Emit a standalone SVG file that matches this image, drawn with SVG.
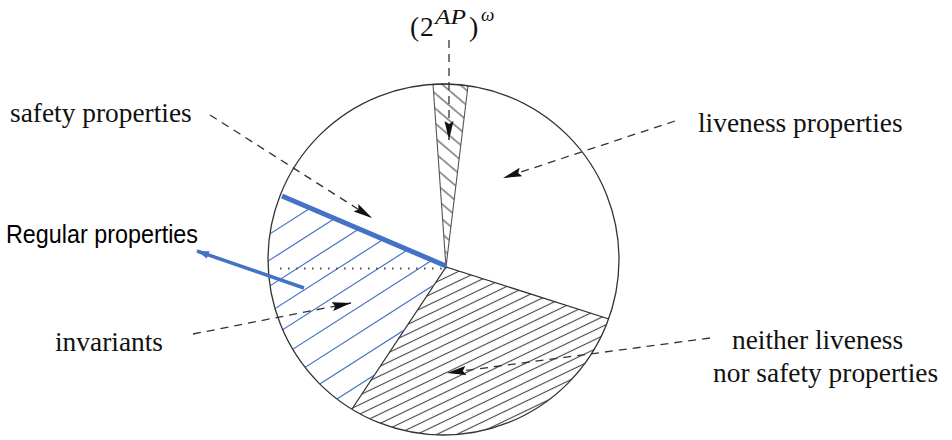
<svg xmlns="http://www.w3.org/2000/svg" width="952" height="440" viewBox="0 0 952 440">
<style>
.lbl{font-family:"Liberation Serif","Times New Roman",serif;font-size:27.4px;fill:#111}
.sans{font-family:"Liberation Sans",Arial,sans-serif;fill:#000}
.edge{fill:none;stroke:#333;stroke-width:1.3}
.dash{fill:none;stroke:#333;stroke-width:1.3;stroke-dasharray:8 6}
.bh{stroke:#4472C4;stroke-width:1.2}
</style>
<defs>
<marker id="ah" markerUnits="userSpaceOnUse" markerWidth="20" markerHeight="10" refX="19" refY="4.5" orient="auto">
<path d="M0,0 L19,4.5 L0,9 L3,4.5 z" fill="#111"/>
</marker>
<marker id="bah" markerUnits="userSpaceOnUse" markerWidth="14" markerHeight="10" refX="12" refY="4" orient="auto">
<path d="M0,0 L12,4 L0,8 z" fill="#4472C4"/>
</marker>
<pattern id="gh" patternUnits="userSpaceOnUse" width="20" height="8.6" patternTransform="rotate(-25.6)">
<line x1="-1" y1="4.3" x2="21" y2="4.3" stroke="#444" stroke-width="1.1"/>
</pattern>
<pattern id="wh" patternUnits="userSpaceOnUse" width="20" height="11.4" patternTransform="rotate(40.4)">
<line x1="-1" y1="5.7" x2="21" y2="5.7" stroke="#444" stroke-width="1.1"/>
</pattern>
<clipPath id="blueclip">
<path d="M446,267 L280,195.7 A175.5,175.5 0 0 0 352,409 Z"/>
</clipPath>
</defs>
<rect width="952" height="440" fill="#fff"/>

<g id="neither-region">
<path d="M446,267 L352,409 A175.5,175.5 0 0 0 609,319 Z" fill="url(#gh)"/>
<path d="M352,409 L446,267 L609,319" class="edge"/>
</g>

<g id="intersection-wedge">
<path d="M446,267 L433,84.3 A175.5,175.5 0 0 1 468,85.7 Z" fill="url(#wh)" stroke="#555" stroke-width="1.1"/>
</g>

<g id="regular-region">
<g clip-path="url(#blueclip)">
<line class="bh" x1="262" y1="239" x2="450" y2="118.7"/>
<line class="bh" x1="262" y1="265" x2="450" y2="144.7"/>
<line class="bh" x1="262" y1="291" x2="450" y2="170.7"/>
<line class="bh" x1="262" y1="317" x2="450" y2="196.7"/>
<line class="bh" x1="262" y1="343" x2="450" y2="222.7"/>
<line class="bh" x1="262" y1="369" x2="450" y2="248.7"/>
<line class="bh" x1="262" y1="395" x2="450" y2="274.7"/>
<line class="bh" x1="262" y1="421" x2="450" y2="300.7"/>
<line class="bh" x1="262" y1="447" x2="450" y2="326.7"/>
</g>
<line x1="282" y1="196" x2="446" y2="266" stroke="#4472C4" stroke-width="5"/>
<line x1="280" y1="268.5" x2="443" y2="268.5" stroke="#555" stroke-width="1.8" stroke-dasharray="1.6 6.4"/>
</g>

<g id="circle">
<circle cx="443.5" cy="259.5" r="175.5" class="edge"/>
</g>

<g id="label-omega">
<text class="lbl" font-size="28" x="410" y="36">(<tspan x="420">2</tspan><tspan x="435" y="24" font-style="italic" font-size="20" textLength="31" lengthAdjust="spacingAndGlyphs">AP</tspan><tspan x="469" y="36" font-size="28">)</tspan><tspan x="481" y="21" font-style="italic" font-size="19">ω</tspan></text>
</g>
<g id="label-safety"><text class="lbl" x="10" y="122">safety properties</text></g>
<g id="label-liveness"><text class="lbl" x="698" y="132">liveness properties</text></g>
<g id="label-invariants"><text class="lbl" x="55" y="351">invariants</text></g>
<g id="label-neither">
<text class="lbl" x="732" y="349">neither liveness</text>
<text class="lbl" x="713" y="382">nor safety properties</text>
</g>
<g id="label-regular"><text class="sans" x="6" y="243" font-size="26" textLength="192" lengthAdjust="spacingAndGlyphs">Regular properties</text></g>

<g id="connectors">
<line class="dash" x1="449" y1="40" x2="449" y2="140" marker-end="url(#ah)"/>
<line class="dash" x1="210" y1="115" x2="372" y2="218" marker-end="url(#ah)"/>
<line class="dash" x1="675" y1="121" x2="503" y2="178" marker-end="url(#ah)"/>
<line class="dash" x1="193" y1="334" x2="351" y2="303" marker-end="url(#ah)"/>
<line class="dash" x1="710" y1="338" x2="447" y2="373" marker-end="url(#ah)"/>
<line x1="304" y1="288" x2="197" y2="251" stroke="#4472C4" stroke-width="3.5" marker-end="url(#bah)"/>
</g>
</svg>
